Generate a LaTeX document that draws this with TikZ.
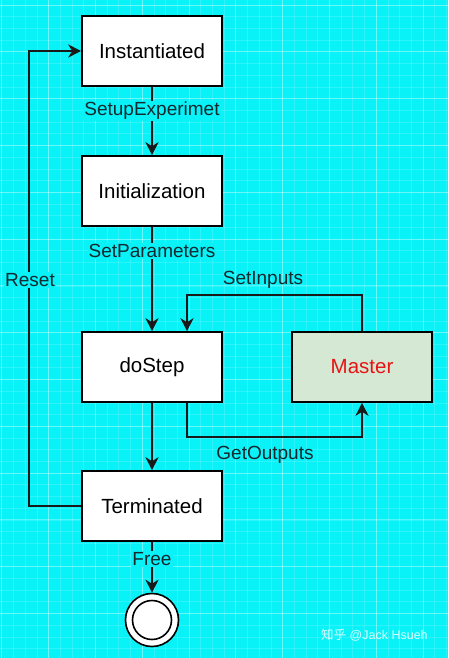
\documentclass[tikz,border=0pt]{standalone}
\usepackage{fontspec}
\setmainfont{Liberation Sans}
\newfontfamily\cjkfont{Noto Sans CJK SC}
\usetikzlibrary{arrows.meta}
\definecolor{bgcyan}{RGB}{8,242,248}
\definecolor{masterfill}{RGB}{213,232,212}
\definecolor{mastertext}{RGB}{230,20,20}
\definecolor{lbltext}{RGB}{20,40,45}
\tikzset{
  statebox/.style={draw=black, line width=1.6pt, fill=white, minimum width=140pt, minimum height=70pt,
    font=\fontsize{20.5}{24}\selectfont, text=black, inner sep=0pt},
  conn/.style={line width=1.6pt, draw=black!90},
  arr/.style={conn, -{Stealth[length=13pt,width=13pt,inset=4pt]}},
  lbl/.style={font=\fontsize{19}{22}\selectfont, text=lbltext, inner sep=1pt},
  lblbg/.style={lbl, fill=bgcyan},
}
\begin{document}
\begin{tikzpicture}[x=1pt,y=-1pt]
  % background and grid
  \fill[bgcyan] (0,0) rectangle (448,658);
  \useasboundingbox (0,0) rectangle (448,658);
  \foreach \i in {0,...,39} {
    \draw[white, opacity=0.15, line width=0.6pt] ({1.7+11.7*\i},0) -- ({1.7+11.7*\i},658);
  }
  \foreach \i in {0,...,57} {
    \draw[white, opacity=0.15, line width=0.6pt] (0,{5+11.7*\i}) -- (448,{5+11.7*\i});
  }
  \foreach \i in {0,...,9} {
    \draw[white, opacity=0.3, line width=0.8pt] ({1.7+46.8*\i},0) -- ({1.7+46.8*\i},658);
  }
  \foreach \i in {0,...,14} {
    \draw[white, opacity=0.3, line width=0.8pt] (0,{5+46.8*\i}) -- (448,{5+46.8*\i});
  }

  % nodes
  \node[statebox] (inst) at (152,51) {Instantiated};
  \node[statebox] (init) at (152,191) {Initialization};
  \node[statebox] (dostep) at (152,367) {doStep};
  \node[statebox, fill=masterfill, text=mastertext] (master) at (362,367) {Master};
  \node[statebox] (term) at (152,506) {Terminated};
  \node[circle, draw=black, line width=1.6pt, fill=white, minimum size=53pt, inner sep=0pt] (final) at (152,620) {};
  \node[circle, draw=black, line width=1.6pt, fill=white, minimum size=39pt, inner sep=0pt] (finalin) at (152,620) {};

  % connectors
  \draw[arr] (inst.south) -- (init.north);
  \draw[arr] (init.south) -- (dostep.north);
  \draw[arr] (dostep.south) -- (term.north);
  \draw[arr] (term.south) -- (final.north);
  \draw[arr] (term.west) -- ++(-52,0) |- (inst.west);
  \draw[arr] (master.north) -- ++(0,-36) -| ([xshift=35pt]dostep.north);
  \draw[arr] ([xshift=35pt]dostep.south) -- ++(0,34) -| (master.south);

  % labels
  \node[lblbg] (l1) at (152,111) {SetupExperimet};
  \node[lblbg] (l2) at (152,251) {SetParameters};
  \node[lblbg] (l3) at (152,559) {Free};
  \node[lblbg] (l4) at (30,280) {Reset};
  \node[lbl] (l5) at (263,280) {SetInputs};
  \node[lbl] (l6) at (265,455) {GetOutputs};

  % watermark
  \node[text=white, opacity=0.85, font=\fontsize{12.5}{14}\selectfont, anchor=west, inner sep=0pt] (wm) at (321,635) {{\cjkfont 知乎} @Jack Hsueh};
\end{tikzpicture}
\end{document}
